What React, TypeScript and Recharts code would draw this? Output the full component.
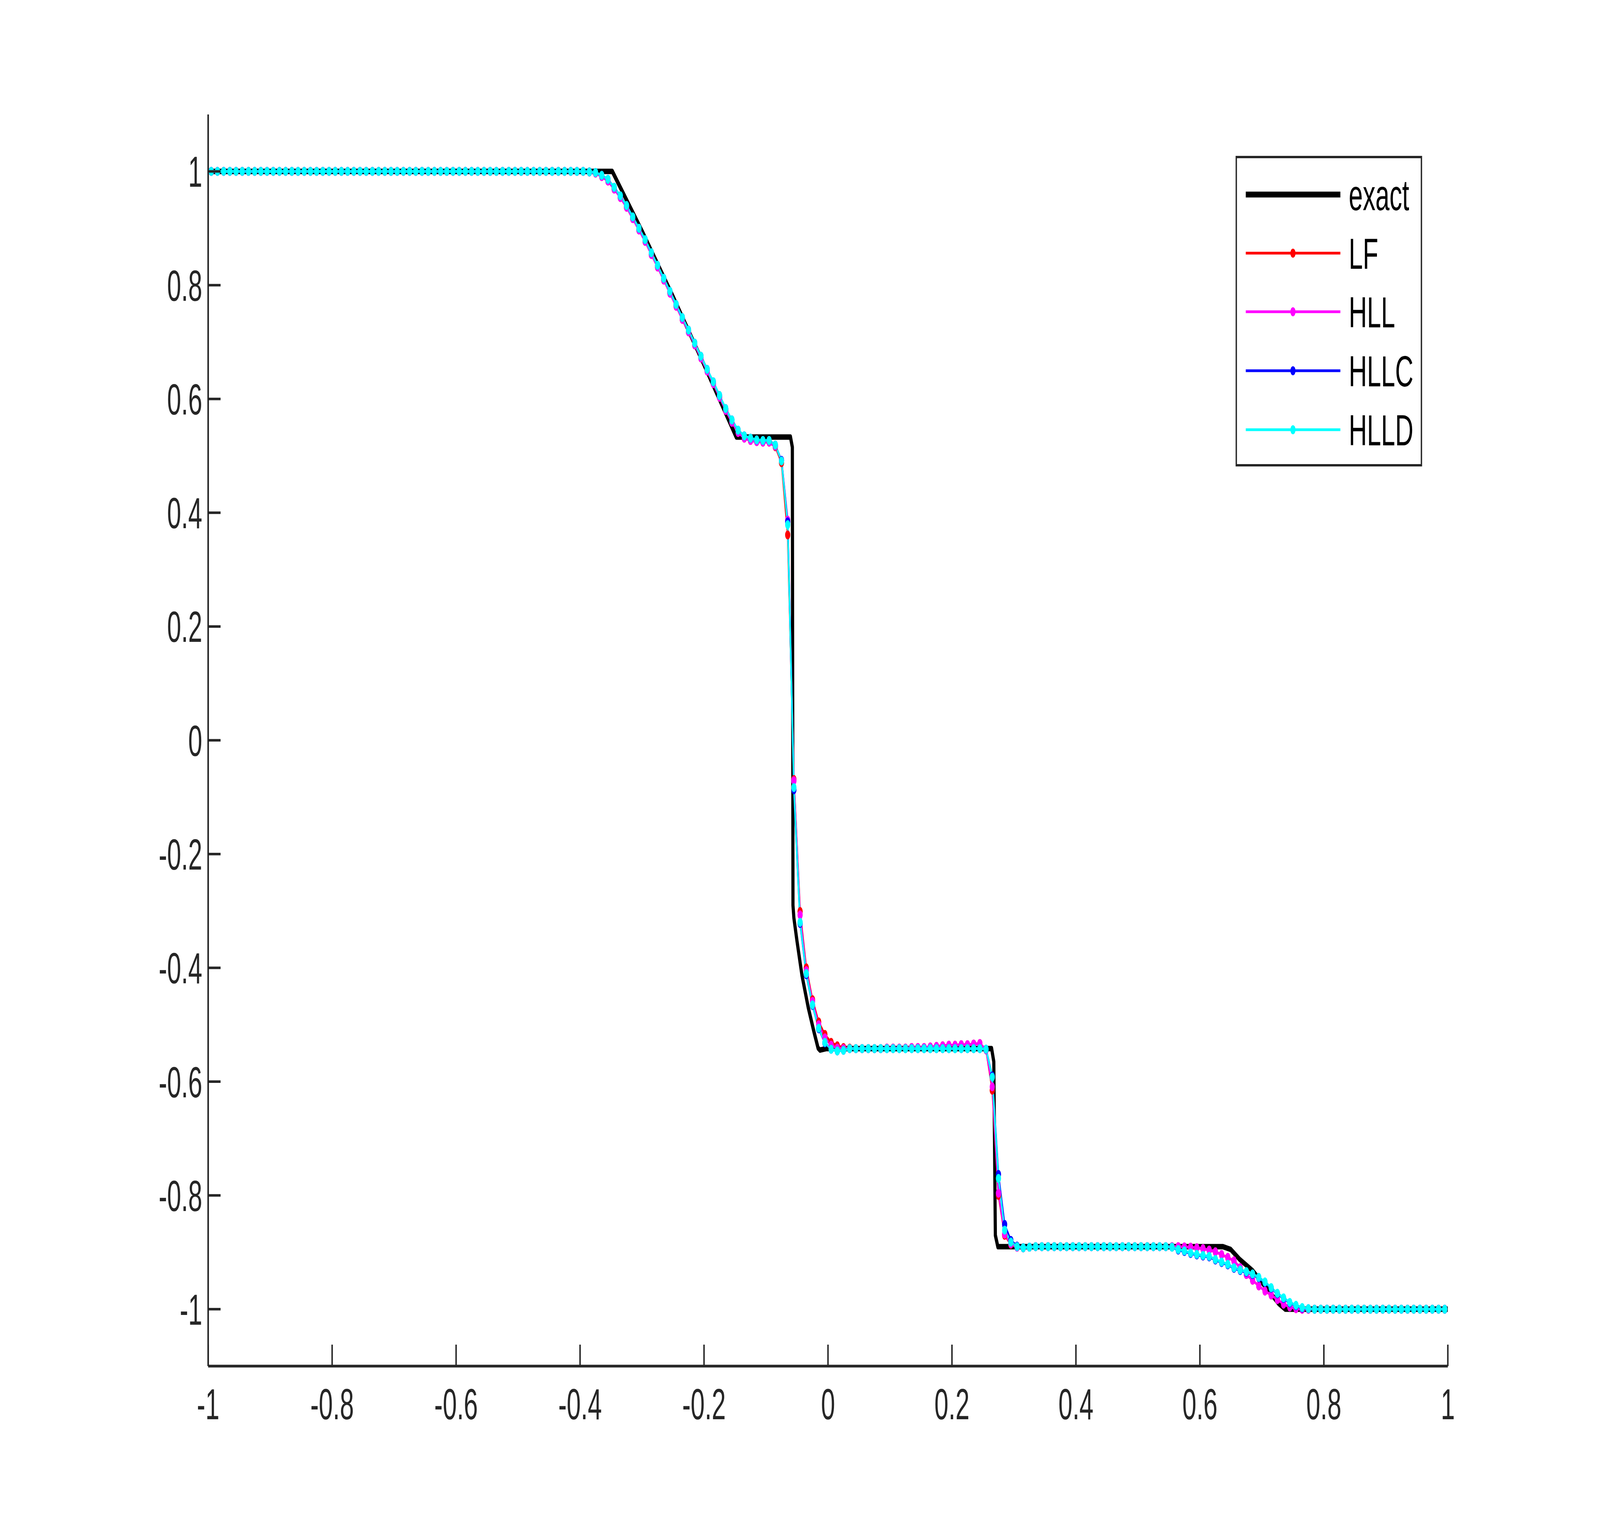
import React from "react";
import { LineChart, Line, XAxis, YAxis } from "recharts";

// cell centres of the 200-cell grid
const cellX = [
  -0.995, -0.985, -0.975, -0.965, -0.955, -0.945, -0.935, -0.925, -0.915, -0.905,
  -0.895, -0.885, -0.875, -0.865, -0.855, -0.845, -0.835, -0.825, -0.815, -0.805,
  -0.795, -0.785, -0.775, -0.765, -0.755, -0.745, -0.735, -0.725, -0.715, -0.705,
  -0.695, -0.685, -0.675, -0.665, -0.655, -0.645, -0.635, -0.625, -0.615, -0.605,
  -0.595, -0.585, -0.575, -0.565, -0.555, -0.545, -0.535, -0.525, -0.515, -0.505,
  -0.495, -0.485, -0.475, -0.465, -0.455, -0.445, -0.435, -0.425, -0.415, -0.405,
  -0.395, -0.385, -0.375, -0.365, -0.355, -0.345, -0.335, -0.325, -0.315, -0.305,
  -0.295, -0.285, -0.275, -0.265, -0.255, -0.245, -0.235, -0.225, -0.215, -0.205,
  -0.195, -0.185, -0.175, -0.165, -0.155, -0.145, -0.135, -0.125, -0.115, -0.105,
  -0.095, -0.085, -0.075, -0.065, -0.055, -0.045, -0.035, -0.025, -0.015, -0.005,
  0.005, 0.015, 0.025, 0.035, 0.045, 0.055, 0.065, 0.075, 0.085, 0.095,
  0.105, 0.115, 0.125, 0.135, 0.145, 0.155, 0.165, 0.175, 0.185, 0.195,
  0.205, 0.215, 0.225, 0.235, 0.245, 0.255, 0.265, 0.275, 0.285, 0.295,
  0.305, 0.315, 0.325, 0.335, 0.345, 0.355, 0.365, 0.375, 0.385, 0.395,
  0.405, 0.415, 0.425, 0.435, 0.445, 0.455, 0.465, 0.475, 0.485, 0.495,
  0.505, 0.515, 0.525, 0.535, 0.545, 0.555, 0.565, 0.575, 0.585, 0.595,
  0.605, 0.615, 0.625, 0.635, 0.645, 0.655, 0.665, 0.675, 0.685, 0.695,
  0.705, 0.715, 0.725, 0.735, 0.745, 0.755, 0.765, 0.775, 0.785, 0.795,
  0.805, 0.815, 0.825, 0.835, 0.845, 0.855, 0.865, 0.875, 0.885, 0.895,
  0.905, 0.915, 0.925, 0.935, 0.945, 0.955, 0.965, 0.975, 0.985, 0.995,
];

const lfValues = [
  1, 1, 1, 1, 1, 1, 1, 1, 1, 1,
  1, 1, 1, 1, 1, 1, 1, 1, 1, 1,
  1, 1, 1, 1, 1, 1, 1, 1, 1, 1,
  1, 1, 1, 1, 1, 1, 1, 1, 1, 1,
  1, 1, 1, 1, 1, 1, 1, 1, 1, 1,
  1, 1, 1, 1, 1, 1, 1, 1, 1, 1,
  1, 0.999, 0.997, 0.991, 0.983, 0.969, 0.954, 0.937, 0.917, 0.897,
  0.877, 0.854, 0.832, 0.809, 0.786, 0.763, 0.74, 0.718, 0.695, 0.672,
  0.649, 0.627, 0.603, 0.58, 0.559, 0.541, 0.531, 0.527, 0.525, 0.524,
  0.524, 0.516, 0.488, 0.361, -0.069, -0.301, -0.4, -0.456, -0.495, -0.517,
  -0.531, -0.537, -0.54, -0.541, -0.542, -0.542, -0.542, -0.542, -0.542, -0.541,
  -0.541, -0.541, -0.541, -0.54, -0.54, -0.54, -0.539, -0.538, -0.537, -0.536,
  -0.536, -0.535, -0.535, -0.534, -0.533, -0.544, -0.615, -0.8, -0.87, -0.886,
  -0.891, -0.892, -0.891, -0.89, -0.89, -0.89, -0.89, -0.89, -0.89, -0.89,
  -0.89, -0.89, -0.89, -0.89, -0.89, -0.89, -0.89, -0.89, -0.89, -0.89,
  -0.89, -0.89, -0.89, -0.89, -0.89, -0.89, -0.89, -0.8905, -0.891, -0.892,
  -0.8935, -0.896, -0.899, -0.904, -0.909, -0.915, -0.927, -0.939, -0.949, -0.959,
  -0.968, -0.975, -0.983, -0.991, -0.996, -0.999, -1, -1, -1, -1,
  -1, -1, -1, -1, -1, -1, -1, -1, -1, -1,
  -1, -1, -1, -1, -1, -1, -1, -1, -1, -1,
];

const hllValues = [
  1, 1, 1, 1, 1, 1, 1, 1, 1, 1,
  1, 1, 1, 1, 1, 1, 1, 1, 1, 1,
  1, 1, 1, 1, 1, 1, 1, 1, 1, 1,
  1, 1, 1, 1, 1, 1, 1, 1, 1, 1,
  1, 1, 1, 1, 1, 1, 1, 1, 1, 1,
  1, 1, 1, 1, 1, 1, 1, 1, 1, 1,
  1, 0.999, 0.997, 0.991, 0.983, 0.969, 0.954, 0.937, 0.917, 0.897,
  0.877, 0.854, 0.832, 0.809, 0.786, 0.763, 0.74, 0.718, 0.695, 0.672,
  0.649, 0.627, 0.603, 0.58, 0.559, 0.541, 0.531, 0.527, 0.525, 0.524,
  0.524, 0.517, 0.492, 0.387, -0.071, -0.307, -0.405, -0.459, -0.5, -0.523,
  -0.536, -0.541, -0.542, -0.542, -0.542, -0.542, -0.542, -0.542, -0.542, -0.541,
  -0.541, -0.541, -0.541, -0.54, -0.54, -0.54, -0.539, -0.538, -0.537, -0.536,
  -0.536, -0.535, -0.535, -0.534, -0.533, -0.544, -0.609, -0.796, -0.868, -0.885,
  -0.891, -0.892, -0.891, -0.89, -0.89, -0.89, -0.89, -0.89, -0.89, -0.89,
  -0.89, -0.89, -0.89, -0.89, -0.89, -0.89, -0.89, -0.89, -0.89, -0.89,
  -0.89, -0.89, -0.89, -0.89, -0.89, -0.89, -0.89, -0.8905, -0.891, -0.892,
  -0.8935, -0.896, -0.899, -0.904, -0.909, -0.915, -0.927, -0.939, -0.949, -0.959,
  -0.968, -0.975, -0.983, -0.991, -0.996, -0.999, -1, -1, -1, -1,
  -1, -1, -1, -1, -1, -1, -1, -1, -1, -1,
  -1, -1, -1, -1, -1, -1, -1, -1, -1, -1,
];

const hllcValues = [
  1, 1, 1, 1, 1, 1, 1, 1, 1, 1,
  1, 1, 1, 1, 1, 1, 1, 1, 1, 1,
  1, 1, 1, 1, 1, 1, 1, 1, 1, 1,
  1, 1, 1, 1, 1, 1, 1, 1, 1, 1,
  1, 1, 1, 1, 1, 1, 1, 1, 1, 1,
  1, 1, 1, 1, 1, 1, 1, 1, 1, 1,
  1, 0.999, 0.998, 0.993, 0.986, 0.972, 0.957, 0.94, 0.92, 0.9,
  0.88, 0.857, 0.835, 0.812, 0.789, 0.766, 0.743, 0.721, 0.698, 0.675,
  0.652, 0.63, 0.606, 0.583, 0.563, 0.545, 0.535, 0.531, 0.528, 0.527,
  0.527, 0.519, 0.492, 0.384, -0.087, -0.322, -0.412, -0.466, -0.507, -0.532,
  -0.543, -0.546, -0.545, -0.542, -0.542, -0.542, -0.542, -0.542, -0.542, -0.542,
  -0.542, -0.542, -0.542, -0.542, -0.542, -0.542, -0.542, -0.542, -0.542, -0.542,
  -0.542, -0.542, -0.542, -0.542, -0.542, -0.543, -0.59, -0.763, -0.851, -0.879,
  -0.889, -0.892, -0.891, -0.89, -0.89, -0.89, -0.89, -0.89, -0.89, -0.89,
  -0.89, -0.89, -0.89, -0.89, -0.89, -0.89, -0.89, -0.89, -0.89, -0.89,
  -0.89, -0.89, -0.89, -0.89, -0.89, -0.891, -0.896, -0.8985, -0.902, -0.9045,
  -0.9065, -0.908, -0.9135, -0.918, -0.922, -0.928, -0.932, -0.935, -0.939, -0.945,
  -0.953, -0.963, -0.973, -0.981, -0.989, -0.994, -0.998, -0.999, -1, -1,
  -1, -1, -1, -1, -1, -1, -1, -1, -1, -1,
  -1, -1, -1, -1, -1, -1, -1, -1, -1, -1,
];

const hlldValues = [
  1, 1, 1, 1, 1, 1, 1, 1, 1, 1,
  1, 1, 1, 1, 1, 1, 1, 1, 1, 1,
  1, 1, 1, 1, 1, 1, 1, 1, 1, 1,
  1, 1, 1, 1, 1, 1, 1, 1, 1, 1,
  1, 1, 1, 1, 1, 1, 1, 1, 1, 1,
  1, 1, 1, 1, 1, 1, 1, 1, 1, 1,
  1, 0.999, 0.998, 0.993, 0.986, 0.972, 0.957, 0.94, 0.92, 0.9,
  0.88, 0.857, 0.835, 0.812, 0.789, 0.766, 0.743, 0.721, 0.698, 0.675,
  0.652, 0.63, 0.606, 0.583, 0.563, 0.545, 0.535, 0.531, 0.528, 0.527,
  0.527, 0.519, 0.491, 0.379, -0.083, -0.32, -0.41, -0.465, -0.506, -0.531,
  -0.543, -0.546, -0.545, -0.542, -0.542, -0.542, -0.542, -0.542, -0.542, -0.542,
  -0.542, -0.542, -0.542, -0.542, -0.542, -0.542, -0.542, -0.542, -0.542, -0.542,
  -0.542, -0.542, -0.542, -0.542, -0.542, -0.543, -0.592, -0.77, -0.861, -0.882,
  -0.89, -0.892, -0.891, -0.89, -0.89, -0.89, -0.89, -0.89, -0.89, -0.89,
  -0.89, -0.89, -0.89, -0.89, -0.89, -0.89, -0.89, -0.89, -0.89, -0.89,
  -0.89, -0.89, -0.89, -0.89, -0.89, -0.891, -0.895, -0.8975, -0.901, -0.9035,
  -0.9055, -0.907, -0.9125, -0.917, -0.921, -0.927, -0.931, -0.934, -0.938, -0.944,
  -0.952, -0.962, -0.972, -0.98, -0.988, -0.993, -0.997, -0.999, -1, -1,
  -1, -1, -1, -1, -1, -1, -1, -1, -1, -1,
  -1, -1, -1, -1, -1, -1, -1, -1, -1, -1,
];

// exact solution, breakpoints of the profile
const exactX = [
  -1, -0.348, -0.3, -0.25, -0.2, -0.148, -0.0605, -0.0575, -0.0565, -0.055,
  -0.05, -0.042, -0.032, -0.0225, -0.016, -0.013, -0.003, 0.264, 0.2675, 0.27,
  0.274, 0.637, 0.6497, 0.6644, 0.6853, 0.7062, 0.7271, 0.7376, 1,
];
const exactY = [
  1, 1, 0.895, 0.78, 0.66, 0.533, 0.533, 0.515, -0.29, -0.3125,
  -0.353, -0.413, -0.469, -0.513, -0.541, -0.5445, -0.542, -0.542, -0.565, -0.87,
  -0.89, -0.89, -0.8949, -0.9126, -0.9325, -0.9613, -0.99, -1, -1,
];

const xTicks = [-1, -0.8, -0.6, -0.4, -0.2, 0, 0.2, 0.4, 0.6, 0.8, 1];
const yTicks = [-1, -0.8, -0.6, -0.4, -0.2, 0, 0.2, 0.4, 0.6, 0.8, 1];

const schemes = [
  { name: "LF", color: "#ff0000", values: lfValues },
  { name: "HLL", color: "#ff00ff", values: hllValues },
  { name: "HLLC", color: "#0000ff", values: hllcValues },
  { name: "HLLD", color: "#00ffff", values: hlldValues },
];

const exactData = exactX.map((x, i) => ({ x, y: exactY[i] }));

const W = 7087;
const H = 3937;
const AXIS = "#262626";
const FONT = "'Liberation Sans', Arial, Helvetica, sans-serif";
const TICK_LEN = 55;
const X_MARGIN = 56;
const Y_MARGIN = 26;

function XTick(props: any) {
  const { x, y, payload } = props;
  const axisY = y - X_MARGIN;
  return (
    <g>
      <line x1={x} x2={x} y1={axisY} y2={axisY - TICK_LEN} stroke={AXIS} strokeWidth={6.5} />
      <text x={x} y={y} dy="0.71em" textAnchor="middle" fontSize={112} fontFamily={FONT} fill={AXIS}>
        {String(payload.value)}
      </text>
    </g>
  );
}

function YTick(props: any) {
  const { x, y, payload } = props;
  const axisX = x + Y_MARGIN;
  return (
    <g>
      <line x1={axisX} x2={axisX + TICK_LEN} y1={y} y2={y} stroke={AXIS} strokeWidth={6.5} />
      <text x={x} y={y} dy="0.355em" textAnchor="end" fontSize={112} fontFamily={FONT} fill={AXIS}>
        {String(payload.value)}
      </text>
    </g>
  );
}

function LegendBox() {
  const rows = [{ name: "exact", color: "#000000", marker: false }].concat(
    schemes.map((s) => ({ name: s.name, color: s.color, marker: true }))
  );
  const rowY = [99, 249, 399, 550, 701];
  return (
    <svg
      width={826}
      height={795}
      style={{ position: "absolute", left: 5473, top: 399 }}
    >
      <rect x={3} y={3} width={820} height={789} fill="#ffffff" stroke={AXIS} strokeWidth={6} />
      {rows.map((r, i) => (
        <g key={r.name}>
          <line
            x1={45}
            x2={464}
            y1={rowY[i]}
            y2={rowY[i]}
            stroke={r.color}
            strokeWidth={r.marker ? 7 : 15}
          />
          {r.marker && <circle cx={254} cy={rowY[i]} r={11.5} fill={r.color} />}
          <text x={501} y={rowY[i] + 40} fontSize={112} fontFamily={FONT} fill="#000000">
            {r.name}
          </text>
        </g>
      ))}
    </svg>
  );
}

export default function App() {
  // the figure is laid out in 7087x3937 units and fitted to the visible page
  const vw = typeof window !== "undefined" && window.innerWidth > 0 ? window.innerWidth : W;
  const vh = typeof window !== "undefined" && window.innerHeight > 0 ? window.innerHeight : H;
  const kx = vw / W;
  const ky = vh / H;
  return (
    <div
      style={{
        position: "absolute",
        left: 0,
        top: 0,
        width: W * kx,
        height: H * ky,
        overflow: "hidden",
        background: "#ffffff",
      }}
    >
      <div
        style={{
          position: "absolute",
          left: 0,
          top: 0,
          width: W,
          height: H,
          transform: `scale(${kx}, ${ky})`,
          transformOrigin: "0 0",
        }}
      >
        <LineChart width={W} height={H} margin={{ top: 293, right: 674, bottom: 240, left: 622 }}>
          <XAxis
            type="number"
            dataKey="x"
            domain={[-1, 1]}
            ticks={xTicks}
            interval={0}
            allowDataOverflow
            height={200}
            tickSize={0}
            tickMargin={X_MARGIN}
            tickLine={false}
            axisLine={{ stroke: AXIS, strokeWidth: 7 }}
            tick={(p: any) => <XTick {...p} />}
          />
          <YAxis
            type="number"
            domain={[-1.1, 1.1]}
            ticks={yTicks}
            interval={0}
            allowDataOverflow
            width={300}
            tickSize={0}
            tickMargin={Y_MARGIN}
            tickLine={false}
            axisLine={{ stroke: AXIS, strokeWidth: 7 }}
            tick={(p: any) => <YTick {...p} />}
          />
          <Line
            data={exactData}
            dataKey="y"
            type="linear"
            stroke="#000000"
            strokeWidth={14}
            strokeLinejoin="round"
            dot={false}
            activeDot={false}
            isAnimationActive={false}
          />
          {schemes.map((s) => (
            <Line
              key={s.name}
              data={cellX.map((x, i) => ({ x, y: s.values[i] }))}
              dataKey="y"
              type="linear"
              stroke={s.color}
              strokeWidth={7}
              strokeLinejoin="round"
              dot={{ r: 11.5, fill: s.color, stroke: s.color, strokeWidth: 0 }}
              activeDot={false}
              isAnimationActive={false}
            />
          ))}
        </LineChart>
        <LegendBox />
      </div>
    </div>
  );
}
